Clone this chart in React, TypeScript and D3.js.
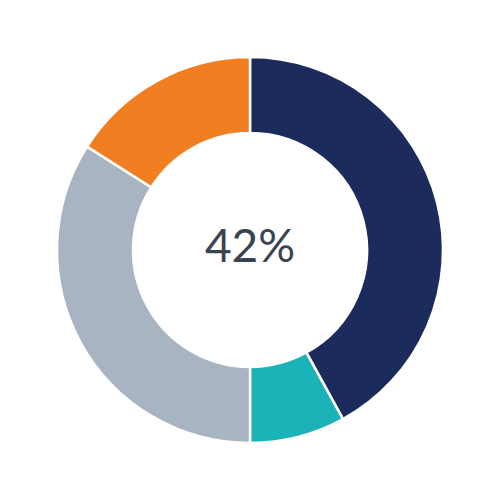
import React from 'react';
import * as d3 from 'd3';

// Slice shares (percent), read clockwise from 12 o'clock
const categories = ['A', 'B', 'C', 'D'];
const values = [42, 8, 34, 16];
const colors = ['#1b2b5b', '#1bb3b7', '#a9b4c2', '#f17e21'];
const centerLabel = '42%';

const App: React.FC = () => {
  const width = 500;
  const height = 500;
  const outerRadius = 193;
  const innerRadius = 117;

  const pie = d3.pie<number>().sort(null).value(d => d);
  const arcs = pie(values);
  const arc = d3.arc<d3.PieArcDatum<number>>()
    .innerRadius(innerRadius)
    .outerRadius(outerRadius);

  return (
    <svg
      width={width}
      height={height}
      style={{ position: 'absolute', left: 0, top: 0, background: '#fff' }}
    >
      <g transform={`translate(${width / 2}, ${height / 2})`}>
        {arcs.map((a, i) => (
          <path
            key={categories[i]}
            d={arc(a) || ''}
            fill={colors[i]}
            stroke="#ffffff"
            strokeWidth={2.5}
          />
        ))}
        <text
          x={0}
          y={12}
          textAnchor="middle"
          fontFamily="Lato, sans-serif"
          fontWeight={400}
          fontSize={46}
          fill="#3b4250"
        >
          {centerLabel}
        </text>
      </g>
    </svg>
  );
};

export default App;
